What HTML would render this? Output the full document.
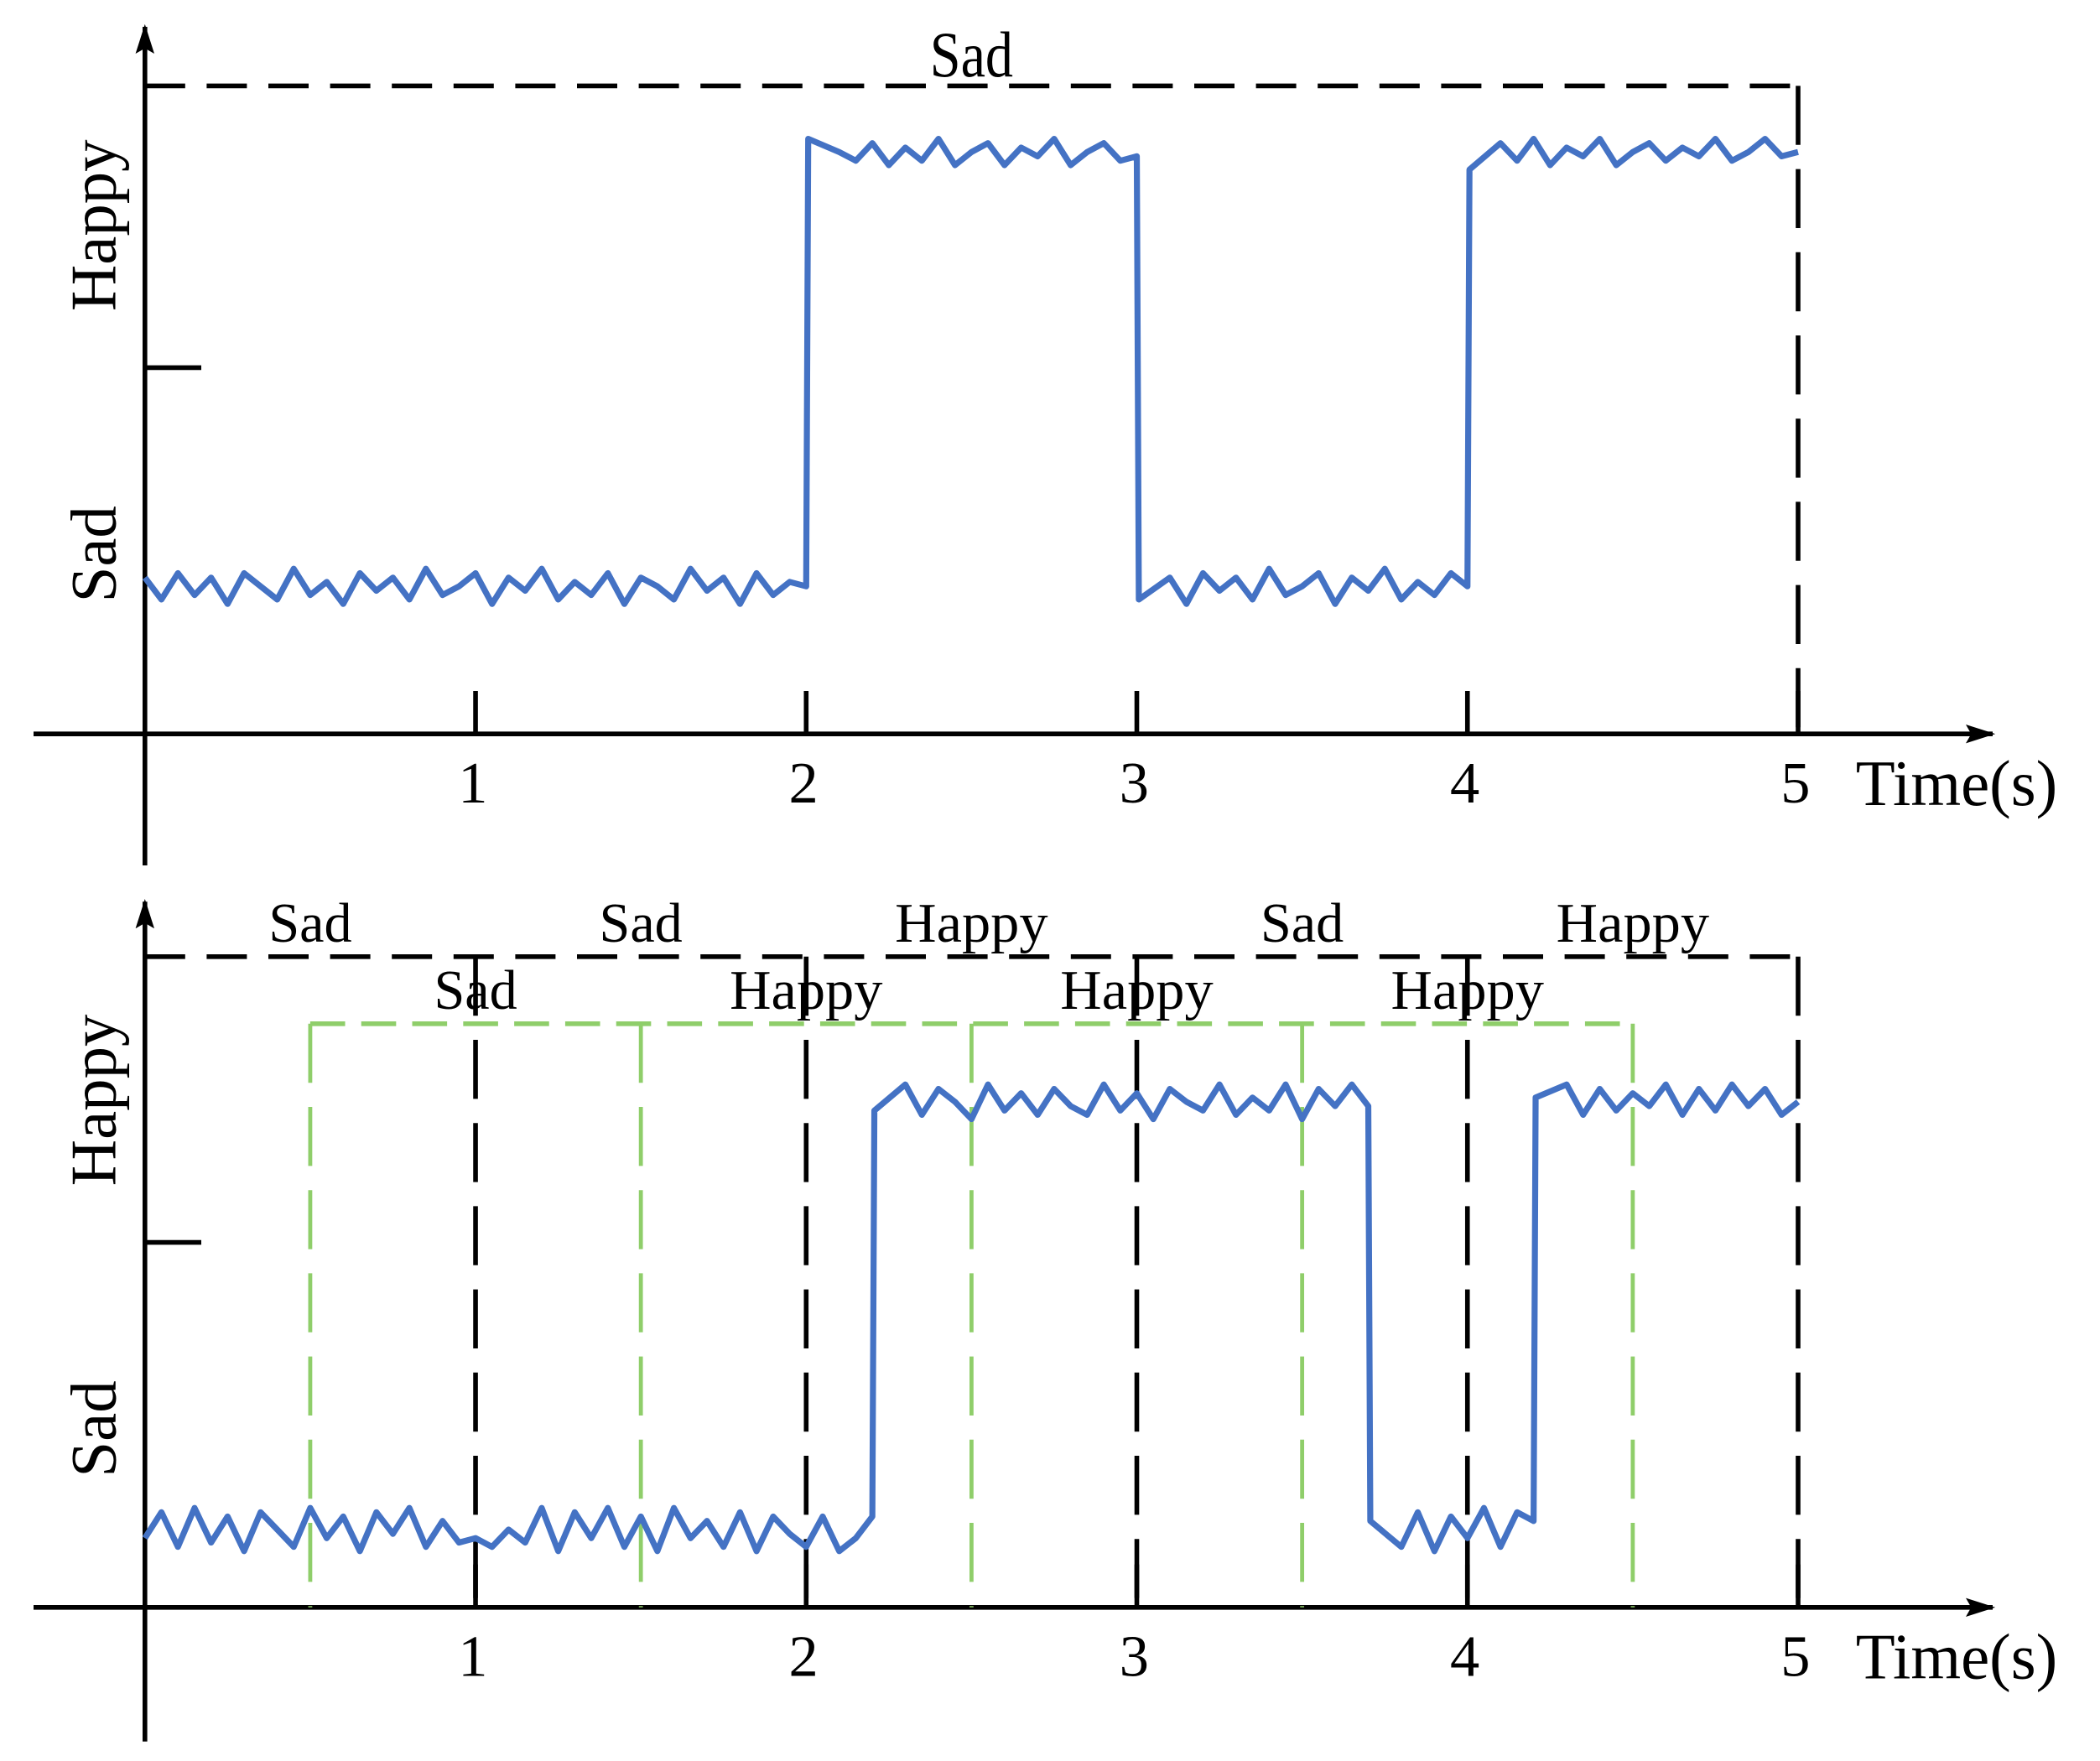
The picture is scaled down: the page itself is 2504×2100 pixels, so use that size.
<!DOCTYPE html>
<html><head><meta charset="utf-8"><style>html,body{margin:0;padding:0;background:#fff}svg{display:block}text{font-family:"Liberation Serif",serif;fill:#000}</style></head>
<body>
<svg id="chart" width="2504" height="2100" viewBox="0 0 1565 1312.5" xmlns="http://www.w3.org/2000/svg">
<defs>
<marker id="arr" markerWidth="22" markerHeight="16" refX="20" refY="7" orient="auto" markerUnits="userSpaceOnUse" viewBox="0 0 22 14"><path d="M0,0 L22,7 L0,14 L4,7 z" fill="#000"/></marker>
</defs>
<g id="top"></g>
<g id="bot"></g>
</svg>
<script>
const xTicks = [1, 2, 3, 4, 5];
const xTickLabels = ["1", "2", "3", "4", "5"];
const sampleStep = 0.05;
const topValues = [
0.02,-0.03,0.03,-0.02,0.02,-0.04,0.03,0.00,-0.03,0.04,
-0.02,0.01,-0.04,0.03,-0.01,0.02,-0.03,0.04,-0.02,0.00,
0.03,-0.04,0.02,-0.01,0.04,-0.03,0.01,-0.02,0.03,-0.04,
0.02,0.00,-0.03,0.04,-0.01,0.02,-0.04,0.03,-0.02,0.01,
0.00,
1.02,0.99,0.97,1.01,0.96,1.00,0.97,1.02,0.96,0.99,
1.01,0.96,1.00,0.98,1.02,0.96,0.99,1.01,0.97,0.98,
-0.03,0.02,-0.04,0.03,-0.01,0.02,-0.03,0.04,-0.02,0.00,
0.03,-0.04,0.02,-0.01,0.04,-0.03,0.01,-0.02,0.03,0.00,
0.95,1.01,0.97,1.02,0.96,1.00,0.98,1.02,0.96,0.99,
1.01,0.97,1.00,0.98,1.02,0.97,0.99,1.02,0.98,0.99];
const botValues = [
-0.02,0.04,-0.04,0.05,-0.03,0.03,-0.05,0.04,0.00,-0.04,
0.05,-0.02,0.03,-0.05,0.04,-0.01,0.05,-0.04,0.02,-0.03,
-0.02,-0.04,0.00,-0.03,0.05,-0.05,0.04,-0.02,0.05,-0.04,
0.03,-0.05,0.05,-0.02,0.02,-0.04,0.04,-0.05,0.03,-0.01,
-0.04,0.03,-0.05,-0.02,0.03,
0.97,1.03,0.96,1.02,0.99,0.95,1.03,0.97,1.01,0.96,
1.02,0.98,0.96,1.03,0.97,1.01,0.95,1.02,0.99,0.97,
1.03,0.96,1.00,0.97,1.03,0.95,1.02,0.98,1.03,0.98,
0.02,-0.04,0.04,-0.05,0.03,-0.02,0.05,-0.04,0.04,0.02,
1.00,1.03,0.96,1.02,0.97,1.01,0.98,1.03,0.96,1.02,
0.97,1.03,0.98,1.02,0.96,0.99];
const topLabels = ["Sad"];
const botRow1Times = [0.5, 1.5, 2.5, 3.5, 4.5];
const botRow1Labels = ["Sad", "Sad", "Happy", "Sad", "Happy"];
const botRow2Times = [1, 2, 3, 4];
const botRow2Labels = ["Sad", "Happy", "Happy", "Happy"];
const greenTimes = [0.5, 1.5, 2.5, 3.5, 4.5];
const blackTimes = [1, 2, 3, 4, 5];

const NS = "http://www.w3.org/2000/svg";
const X0 = 108, XU = 246.4;
function sx(t) { return X0 + t * XU; }
function mk(parent, tag, attrs) {
  const e = document.createElementNS(NS, tag);
  for (const k in attrs) e.setAttribute(k, attrs[k]);
  parent.appendChild(e);
  return e;
}
function txt(parent, x, y, s, size, extra) {
  const e = mk(parent, "text", Object.assign({x: x, y: y, "font-size": size, "text-anchor": "middle"}, extra || {}));
  e.textContent = s;
  return e;
}

function panel(g, cfg) {
  const sy = v => cfg.sad - v * (cfg.sad - cfg.happy);
  const ya = mk(g, "line", {x1: X0, y1: cfg.yBottom, x2: X0, y2: cfg.yTop, stroke: "#000", "stroke-width": 3.5, "marker-end": "url(#arr)"});
  
  
  const xa = mk(g, "line", {x1: 25, y1: cfg.axisY, x2: 1485, y2: cfg.axisY, stroke: "#000", "stroke-width": 3.5, "marker-end": "url(#arr)"});
  
  
  const yt = mk(g, "line", {x1: X0, y1: cfg.midTick, x2: 150, y2: cfg.midTick, stroke: "#000", "stroke-width": 3.5});
  
  
  xTicks.forEach((t, i) => {
    const tk = mk(g, "line", {x1: sx(t), y1: cfg.axisY - 32, x2: sx(t), y2: cfg.axisY, stroke: "#000", "stroke-width": 3.5});
    
    
    const lb = txt(g, sx(t) - 2, cfg.axisY + 51, xTickLabels[i], 44);
    
    
  });
  const tl = txt(g, 1383, cfg.axisY + 53, "Time(s)", 48, {"text-anchor": "start"});
  
  
  const hl = txt(g, 0, 0, "Happy", 48, {transform: "translate(86," + cfg.happyLabelY + ") rotate(-90)"});
  
  
  const sl = txt(g, 0, 0, "Sad", 48, {transform: "translate(86," + cfg.sadLabelY + ") rotate(-90)"});
  
  
  const tb = mk(g, "line", {x1: X0, y1: cfg.dashTop, x2: sx(5), y2: cfg.dashTop, stroke: "#000", "stroke-width": 3.5, "stroke-dasharray": "30 16"});
  
  
  cfg.vTimes.forEach(t => {
    const v = mk(g, "line", {x1: sx(t), y1: cfg.dashTop, x2: sx(t), y2: cfg.axisY, stroke: "#000", "stroke-width": 3.5, "stroke-dasharray": "44 18"});
    
    
  });
  if (cfg.green) {
    const gt = mk(g, "line", {x1: sx(greenTimes[0]), y1: cfg.greenTop, x2: sx(greenTimes[greenTimes.length - 1]), y2: cfg.greenTop, stroke: "#8fce6a", "stroke-width": 3.5, "stroke-dasharray": "26 12"});
    
    
    greenTimes.forEach(t => {
      const v = mk(g, "line", {x1: sx(t), y1: cfg.greenTop, x2: sx(t), y2: cfg.axisY, stroke: "#8fce6a", "stroke-width": 3, "stroke-dasharray": "44 18"});
      
      
    });
  }
  cfg.labels.forEach(L => {
    const e = txt(g, sx(L.t), L.y, L.s, L.size, {textLength: L.s === "Sad" ? 62 : 114, lengthAdjust: "spacingAndGlyphs"});
    
    
  });
  // signal: state switches drawn near-vertical
  const pts = [];
  let prevT = 0;
  cfg.values.forEach((v, i) => {
    let t = i * sampleStep;
    if (i > 0 && Math.abs(v - cfg.values[i - 1]) > 0.5) t = prevT + 0.006;
    pts.push(sx(t).toFixed(1) + "," + sy(v).toFixed(1));
    prevT = t;
  });
  const pl = mk(g, "polyline", {points: pts.join(" "), fill: "none", stroke: "#4472c4", "stroke-width": 4.5, "stroke-linejoin": "round"});
  
  
}

panel(document.getElementById("top"), {
  yTop: 20, yBottom: 645, axisY: 547, midTick: 274, dashTop: 64, sad: 437, happy: 110,
  happyLabelY: 168, sadLabelY: 413, vTimes: [5], green: false, values: topValues,
  labels: [{t: 2.5, y: 57, s: topLabels[0], size: 48}]
});
const botLabels = [];
botRow1Times.forEach((t, i) => botLabels.push({t: t, y: 702, s: botRow1Labels[i], size: 42}));
botRow2Times.forEach((t, i) => botLabels.push({t: t, y: 752, s: botRow2Labels[i], size: 42}));
panel(document.getElementById("bot"), {
  yTop: 672, yBottom: 1298, axisY: 1198, midTick: 926, dashTop: 713, greenTop: 763, sad: 1140, happy: 818,
  happyLabelY: 820, sadLabelY: 1065, vTimes: blackTimes, green: true, values: botValues,
  labels: botLabels
});
</script>
</body></html>
